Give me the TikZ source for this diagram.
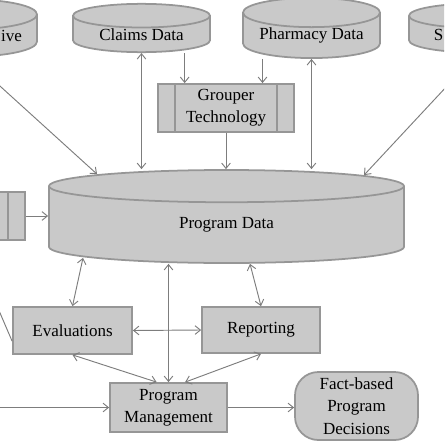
\documentclass[tikz,border=0pt]{standalone}
\usepackage{fontspec}
\setmainfont{Liberation Serif}
\usepackage{tikz}
\usetikzlibrary{shapes.geometric, arrows.meta, calc}

\definecolor{boxfill}{RGB}{201,201,201}
\definecolor{boxline}{RGB}{150,150,150}
\definecolor{linkgray}{RGB}{125,125,125}

\tikzset{
  datastore/.style={cylinder, shape border rotate=90, draw=boxline, fill=boxfill, anchor=shape center,
    line width=1.5pt, inner sep=0pt, minimum width=4.11cm, minimum height=1.3cm, aspect=0.28},
  plainbox/.style={rectangle, draw=boxline, fill=boxfill, line width=1.5pt,
    inner sep=0pt, align=center},
  procbox/.style={plainbox, minimum width=4.08cm, minimum height=1.44cm,
    path picture={\draw[boxline, line width=1.5pt]
      ([xshift=0.51cm]path picture bounding box.north west) -- ([xshift=0.51cm]path picture bounding box.south west)
      ([xshift=-0.51cm]path picture bounding box.north east) -- ([xshift=-0.51cm]path picture bounding box.south east);}},
  decision/.style={plainbox, rounded corners=0.7cm},
  link/.style={draw=linkgray, line width=0.8pt, >={Straight Barb[length=1.6mm,width=2.6mm]}}
}

\begin{document}
\begin{tikzpicture}[x=0.03cm, y=-0.03cm, every node/.style={font=\fontsize{14.5}{19}\selectfont}]

\useasboundingbox (0,0) rectangle (444,444);
\clip (0,0) rectangle (444,444);

% data sources
\node[datastore, text width=3.21cm, align=right] (admin) at (-31.5,28) {ive};
\node[datastore] (claims) at (141.5,28) {Claims Data};
\node[datastore] (pharm) at (311.5,28) {Pharmacy Data};
\node[datastore, text width=2.62cm, align=left] (sdata) at (477.5,28) {S};

\node[procbox] (grouper) at (226,108) {Grouper\\Technology};
\node[procbox] (leftproc) at (-43,216) {};

% central store
\node[datastore, minimum width=10.65cm, minimum height=2.79cm, aspect=0.34] (pd) at (226.5,216.5) {Program Data};

% lower boxes
\node[plainbox, minimum width=3.57cm, minimum height=1.41cm] (evals) at (72.5,330.5) {Evaluations};
\node[plainbox, minimum width=3.54cm, minimum height=1.38cm] (report) at (261,330) {Reporting};
\node[plainbox, minimum width=3.51cm, minimum height=1.47cm] (pm) at (168.5,407.5) {Program\\Management};
\node[decision, minimum width=3.69cm, minimum height=2.04cm] (fact) at (356.5,406) {Fact-based\\Program\\Decisions};

\coordinate (inEval) at (-12,285);
\coordinate (inPM) at (-10,407.5);

% connectors
\draw[link, ->] (admin.south) -- ($(pd.north)+(-129.5,5)$);
\draw[link, <->] (claims.south) -- (claims.south |- pd.north);
\draw[link, ->] (claims.south -| {$(grouper.north)!0.6!(grouper.north west)$}) -- ($(grouper.north)!0.6!(grouper.north west)$);
\draw[link, ->] (pharm.south -| {$(grouper.north)!0.53!(grouper.north east)$}) -- ($(grouper.north)!0.53!(grouper.north east)$);
\draw[link, <->] (pharm.south) -- (pharm.south |- pd.north);
\draw[link, ->] (grouper.south) -- (grouper.south |- pd.north);
\draw[link, ->] (sdata.south) -- ($(pd.north)+(137.5,6)$);
\draw[link, ->] (leftproc.east) -- (leftproc.east -| pd.west);

\draw[link, <->] ($(pd.south)+(-143.5,-6)$) -- (evals.north);
\draw[link, <->] ($(pd.south)+(23.5,0)$) -- (report.north);
\draw[link, <->] (pm.north |- pd.south) -- (pm.north);
\draw[link, <->] (evals.east) -- (report.west);
\draw[link, <->] (evals.south) -- ($(pm.north west)!0.8!(pm.north)$);
\draw[link, <->] (report.south) -- ($(pm.north)!0.28!(pm.north east)$);

\draw[link] (inEval) -- (evals.190);
\draw[link, ->] (inPM) -- (pm.west);
\draw[link, ->] (pm.east) -- (pm.east -| fact.west);

\end{tikzpicture}
\end{document}
